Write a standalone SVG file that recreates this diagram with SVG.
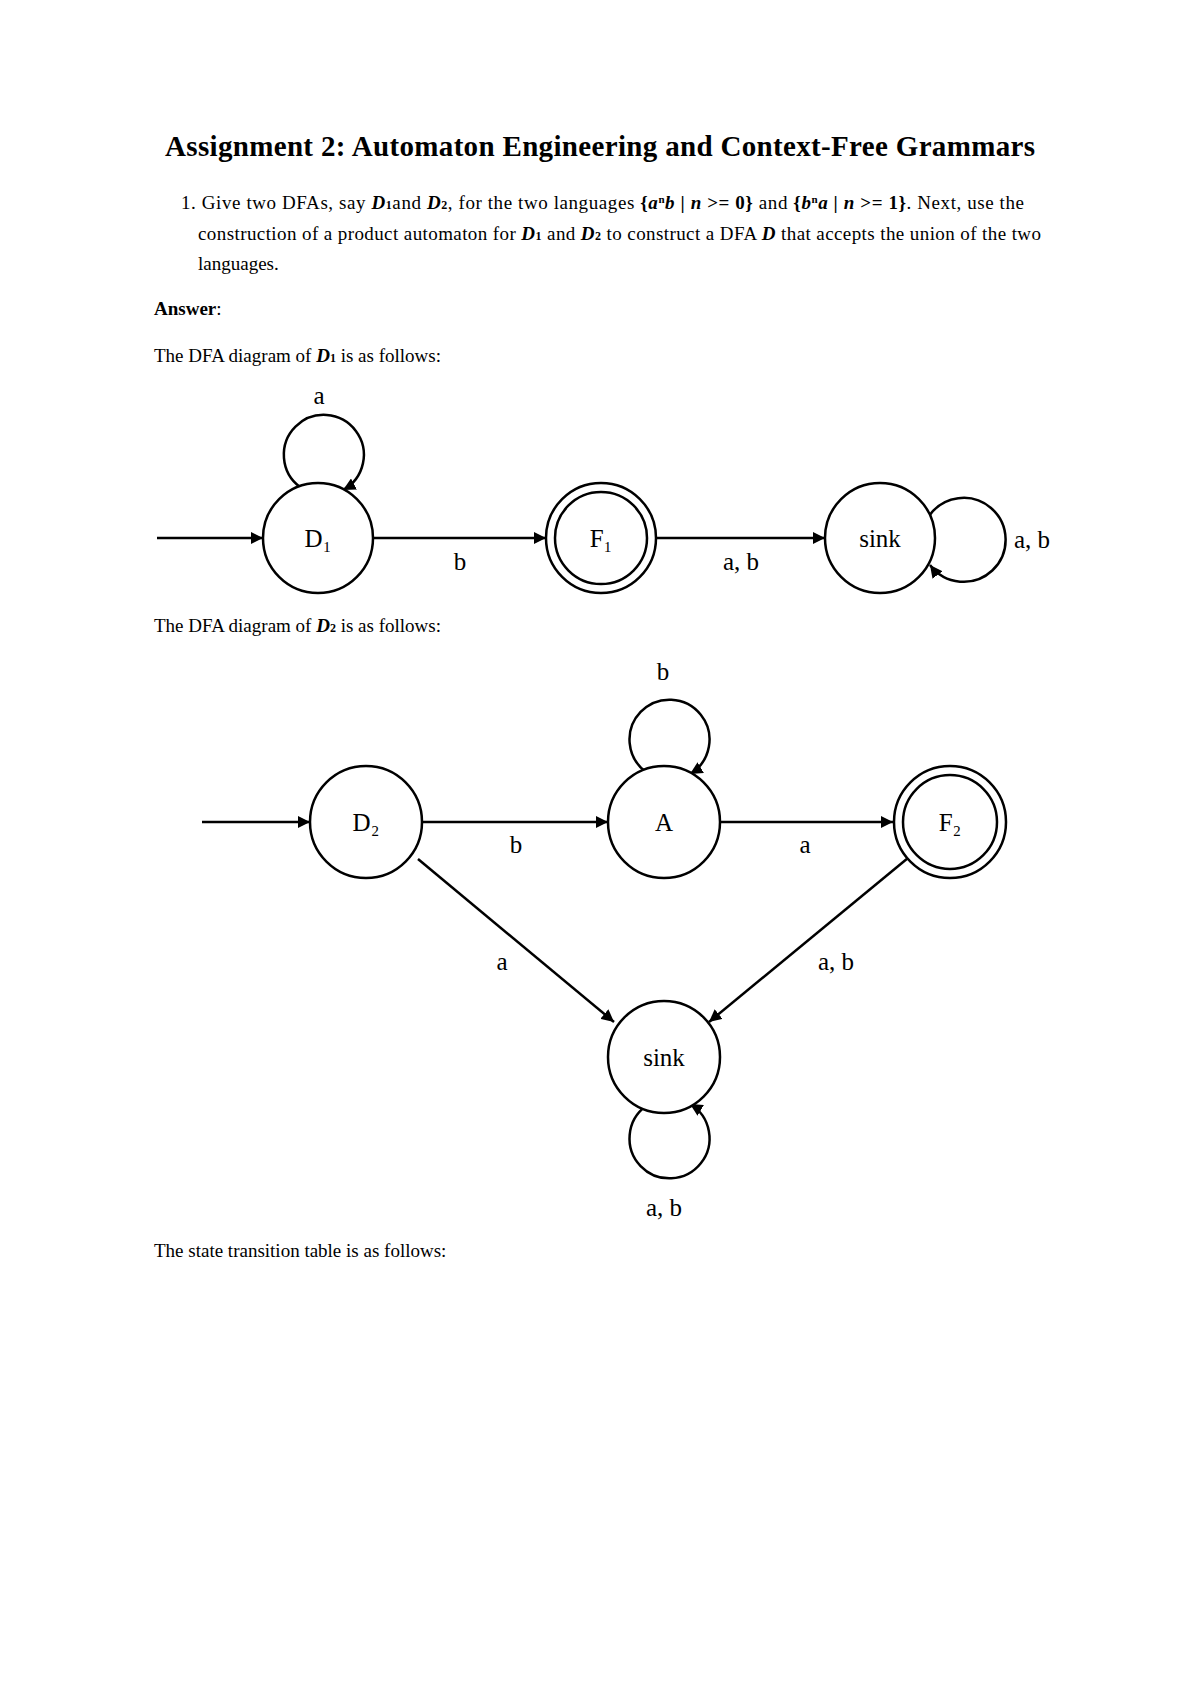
<svg xmlns="http://www.w3.org/2000/svg" width="1200" height="1698" viewBox="0 0 1200 1698">
<style>
text{font-family:"Liberation Serif","Times New Roman",serif;fill:#000}
.t{font-size:19px}
.n{fill:#fff;stroke:#000;stroke-width:2.5}
.lb{font-size:25px;text-anchor:middle}
.e{fill:none;stroke:#000;stroke-width:2.5;marker-end:url(#ah)}
</style>
<defs><marker id="ah" viewBox="0 0 10 10" refX="10" refY="5" markerWidth="5" markerHeight="5" orient="auto"><path d="M0 0L10 5L0 10z" fill="#000"/></marker></defs>
<rect width="1200" height="1698" fill="#fff"/>
<text x="600" y="156" font-size="29" font-weight="bold" text-anchor="middle" textLength="870">Assignment 2: Automaton Engineering and Context-Free Grammars</text>
<text class="t" x="181" y="209" textLength="843">1. Give two DFAs, say <tspan font-weight="bold" font-style="italic">D</tspan><tspan font-size="12" font-weight="bold">1</tspan>and <tspan font-weight="bold" font-style="italic">D</tspan><tspan font-size="12" font-weight="bold">2</tspan>, for the two languages <tspan font-weight="bold">{<tspan font-style="italic">a</tspan><tspan font-size="11" dy="-6">n</tspan><tspan font-style="italic" dy="6">b</tspan> | <tspan font-style="italic">n</tspan> &gt;= 0}</tspan> and <tspan font-weight="bold">{<tspan font-style="italic">b</tspan><tspan font-size="11" dy="-6">n</tspan><tspan font-style="italic" dy="6">a</tspan> | <tspan font-style="italic">n</tspan> &gt;= 1}</tspan>. Next, use the</text>
<text class="t" x="198" y="240" textLength="843">construction of a product automaton for <tspan font-weight="bold" font-style="italic">D</tspan><tspan font-size="12" font-weight="bold">1</tspan> and <tspan font-weight="bold" font-style="italic">D</tspan><tspan font-size="12" font-weight="bold">2</tspan> to construct a DFA <tspan font-weight="bold" font-style="italic">D</tspan> that accepts the union of the two</text>
<text class="t" x="198" y="270">languages.</text>
<text class="t" x="154" y="315"><tspan font-weight="bold">Answer</tspan>:</text>
<text class="t" x="154" y="362">The DFA diagram of <tspan font-weight="bold" font-style="italic">D</tspan><tspan font-size="12" font-weight="bold">1</tspan> is as follows:</text>
<g id="edges">
<path class="e" d="M157 538H263"/>
<path class="e" d="M300 487A40 40 0 1 1 343 490"/>
<path class="e" d="M373 538H546"/>
<path class="e" d="M656 538H825"/>
<path class="e" d="M929 516A42 42 0 1 1 930 565"/>
<path class="e" d="M202 822H310"/>
<path class="e" d="M646 772A40 40 0 1 1 690 774"/>
<path class="e" d="M422 822H608"/>
<path class="e" d="M720 822H893"/>
<path class="e" d="M418 859L614 1022"/>
<path class="e" d="M908 858L709 1022"/>
<path class="e" d="M646 1106A40 40 0 1 0 690 1104"/>
</g>
<g id="labels" class="lb">
<text class="lb" x="319" y="404">a</text>
<text class="lb" x="460" y="570">b</text>
<text class="lb" x="741" y="570">a, b</text>
<text class="lb" x="1032" y="548">a, b</text>
<text class="lb" x="663" y="680">b</text>
<text class="lb" x="516" y="853">b</text>
<text class="lb" x="805" y="853">a</text>
<text class="lb" x="502" y="970">a</text>
<text class="lb" x="836" y="970">a, b</text>
<text class="lb" x="664" y="1216">a, b</text>
</g>
<g id="D1"><circle class="n" cx="318" cy="538" r="55"/><text class="lb" x="318" y="547">D₁</text></g>
<g id="F1"><circle class="n" cx="601" cy="538" r="55"/><circle class="n" cx="601" cy="538" r="46"/><text class="lb" x="601" y="547">F₁</text></g>
<g id="sink1"><circle class="n" cx="880" cy="538" r="55"/><text class="lb" x="880" y="547">sink</text></g>
<text class="t" x="154" y="632">The DFA diagram of <tspan font-weight="bold" font-style="italic">D</tspan><tspan font-size="12" font-weight="bold">2</tspan> is as follows:</text>
<g id="D2"><circle class="n" cx="366" cy="822" r="56"/><text class="lb" x="366" y="831">D₂</text></g>
<g id="A"><circle class="n" cx="664" cy="822" r="56"/><text class="lb" x="664" y="831">A</text></g>
<g id="F2"><circle class="n" cx="950" cy="822" r="56"/><circle class="n" cx="950" cy="822" r="47"/><text class="lb" x="950" y="831">F₂</text></g>
<g id="sink2"><circle class="n" cx="664" cy="1057" r="56"/><text class="lb" x="664" y="1066">sink</text></g>
<text class="t" x="154" y="1257">The state transition table is as follows:</text>
</svg>
